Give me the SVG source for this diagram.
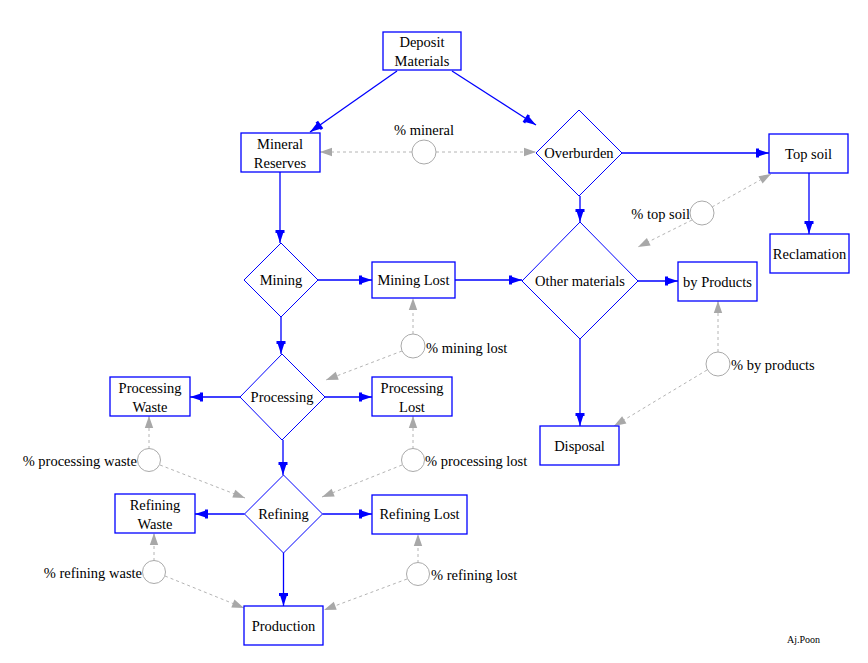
<svg xmlns="http://www.w3.org/2000/svg" width="868" height="663" viewBox="0 0 868 663">
<style>
text{font-family:Liberation Serif,Tinos,Times New Roman,Times,serif;font-size:14.5px;fill:#000}
.box{fill:#fff;stroke:#0000ff;stroke-width:1.3}
.dia{fill:#fff;stroke:#0000ff;stroke-width:1}
.flow{stroke:#0000ff;stroke-width:1.3;fill:none;marker-end:url(#ab)}
.inf{stroke:#b4b4b4;stroke-width:1;stroke-dasharray:3,3;fill:none;marker-end:url(#ag)}
.cv{fill:#fff;stroke:#aaaaaa;stroke-width:1}
.c{text-anchor:middle}
.e{text-anchor:end}
.sig{font-size:10px}
</style>
<defs>
<marker id="ab" markerUnits="userSpaceOnUse" markerWidth="16" markerHeight="12" refX="14" refY="6" orient="auto" viewBox="0 0 16 12">
<polygon points="1,1.5 4,1.5 4,2.8 14,6 4,9.2 4,10.5 1,10.5" fill="#0000ff"/>
</marker>
<marker id="ag" markerUnits="userSpaceOnUse" markerWidth="14" markerHeight="12" refX="13" refY="6" orient="auto" viewBox="0 0 14 12">
<polygon points="1,1.8 13,6 1,10.2" fill="#a8a8a8"/>
</marker>
</defs>
<rect width="868" height="663" fill="#fff"/>
<g id="connectors">
<line class="flow" x1="397" y1="71" x2="310" y2="132"/>
<line class="flow" x1="452" y1="71" x2="536" y2="125"/>
<line class="flow" x1="280" y1="172" x2="280" y2="243"/>
<line class="flow" x1="318" y1="280" x2="372" y2="280"/>
<line class="flow" x1="281" y1="317" x2="281" y2="354"/>
<line class="flow" x1="455" y1="280" x2="522" y2="280"/>
<line class="flow" x1="240" y1="397" x2="190" y2="397"/>
<line class="flow" x1="325" y1="397" x2="372" y2="397"/>
<line class="flow" x1="283" y1="440" x2="283" y2="475"/>
<line class="flow" x1="244.5" y1="514" x2="195" y2="514"/>
<line class="flow" x1="322.5" y1="514" x2="372" y2="514"/>
<line class="flow" x1="283.5" y1="553" x2="283.5" y2="606"/>
<line class="flow" x1="622" y1="153" x2="769" y2="153"/>
<line class="flow" x1="580" y1="196" x2="580" y2="222"/>
<line class="flow" x1="809" y1="173" x2="809" y2="234"/>
<line class="flow" x1="638" y1="281" x2="678" y2="281"/>
<line class="flow" x1="580" y1="339" x2="580" y2="426"/>
<line class="inf" x1="412" y1="152" x2="320" y2="152"/>
<line class="inf" x1="436" y1="152" x2="536" y2="152"/>
<line class="inf" x1="712" y1="207" x2="771" y2="174"/>
<line class="inf" x1="692" y1="220" x2="638" y2="247"/>
<line class="inf" x1="413" y1="334" x2="413" y2="298"/>
<line class="inf" x1="402" y1="351" x2="326" y2="380"/>
<line class="inf" x1="149" y1="449" x2="149" y2="416"/>
<line class="inf" x1="160" y1="465" x2="245" y2="498"/>
<line class="inf" x1="413" y1="449" x2="413" y2="416"/>
<line class="inf" x1="402" y1="465" x2="322" y2="497"/>
<line class="inf" x1="154" y1="561" x2="154" y2="533"/>
<line class="inf" x1="165" y1="576" x2="244" y2="608"/>
<line class="inf" x1="418" y1="563" x2="418" y2="534"/>
<line class="inf" x1="407" y1="579" x2="324" y2="610"/>
<line class="inf" x1="718" y1="352" x2="718" y2="301"/>
<line class="inf" x1="707" y1="370" x2="614" y2="426"/>
</g>
<g id="deposit-materials"><rect class="box" x="383" y="32" width="78" height="38"/><text class="c" x="422" y="46.5">Deposit</text><text class="c" x="422" y="65.5">Materials</text></g>
<g id="mineral-reserves"><rect class="box" x="241" y="133" width="79" height="39"/><text class="c" x="280" y="149">Mineral</text><text class="c" x="280" y="167.5">Reserves</text></g>
<g id="overburden"><polygon class="dia" points="579,110 622,153 579,196 536,153"/><text class="c" x="579" y="158">Overburden</text></g>
<g id="top-soil"><rect class="box" x="769" y="134" width="79" height="39"/><text class="c" x="808.5" y="159">Top soil</text></g>
<g id="reclamation"><rect class="box" x="770" y="234" width="79" height="39"/><text class="c" x="809.5" y="259">Reclamation</text></g>
<g id="other-materials"><polygon class="dia" points="580,222 638,281 580,339 522,281"/><text class="c" x="580" y="286">Other materials</text></g>
<g id="by-products"><rect class="box" x="678" y="262" width="79" height="39"/><text class="c" x="717.5" y="287">by Products</text></g>
<g id="disposal"><rect class="box" x="540" y="426" width="79" height="39"/><text class="c" x="579.5" y="451">Disposal</text></g>
<g id="mining"><polygon class="dia" points="281,243 318,280 281,317 244,280"/><text class="c" x="281" y="285">Mining</text></g>
<g id="mining-lost"><rect class="box" x="372" y="262" width="83" height="36"/><text class="c" x="413.5" y="285">Mining Lost</text></g>
<g id="processing"><polygon class="dia" points="282,354 325,397 282,440 240,397"/><text class="c" x="282" y="402">Processing</text></g>
<g id="processing-waste"><rect class="box" x="110" y="377" width="80" height="39"/><text class="c" x="150" y="393">Processing</text><text class="c" x="150" y="412">Waste</text></g>
<g id="processing-lost"><rect class="box" x="372" y="377" width="80" height="39"/><text class="c" x="412" y="393">Processing</text><text class="c" x="412" y="412">Lost</text></g>
<g id="refining"><polygon class="dia" points="283.5,475 322.5,514 283.5,553 244.5,514"/><text class="c" x="283.5" y="519">Refining</text></g>
<g id="refining-waste"><rect class="box" x="115" y="494" width="80" height="39"/><text class="c" x="155" y="510">Refining</text><text class="c" x="155" y="528.5">Waste</text></g>
<g id="refining-lost"><rect class="box" x="372" y="495" width="95" height="39"/><text class="c" x="419.5" y="519">Refining Lost</text></g>
<g id="production"><rect class="box" x="244" y="606" width="79" height="39"/><text class="c" x="283.5" y="631">Production</text></g>
<g id="pct-mineral"><circle class="cv" cx="424" cy="152" r="12"/><text class="c" x="424" y="135">% mineral</text></g>
<g id="pct-top-soil"><circle class="cv" cx="702" cy="213" r="12"/><text class="e" x="690" y="219">% top soil</text></g>
<g id="pct-mining-lost"><circle class="cv" cx="413" cy="346" r="12"/><text x="426" y="353">% mining lost</text></g>
<g id="pct-processing-waste"><circle class="cv" cx="149" cy="460" r="11.5"/><text class="e" x="137" y="466">% processing waste</text></g>
<g id="pct-processing-lost"><circle class="cv" cx="413" cy="460" r="11.5"/><text x="425" y="466">% processing lost</text></g>
<g id="pct-refining-waste"><circle class="cv" cx="154" cy="572" r="11.5"/><text class="e" x="142" y="578">% refining waste</text></g>
<g id="pct-refining-lost"><circle class="cv" cx="418" cy="574" r="11.5"/><text x="431" y="580">% refining lost</text></g>
<g id="pct-by-products"><circle class="cv" cx="718" cy="364" r="12"/><text x="731" y="370">% by products</text></g>
<text class="sig" x="787" y="643">Aj.Poon</text>
</svg>
